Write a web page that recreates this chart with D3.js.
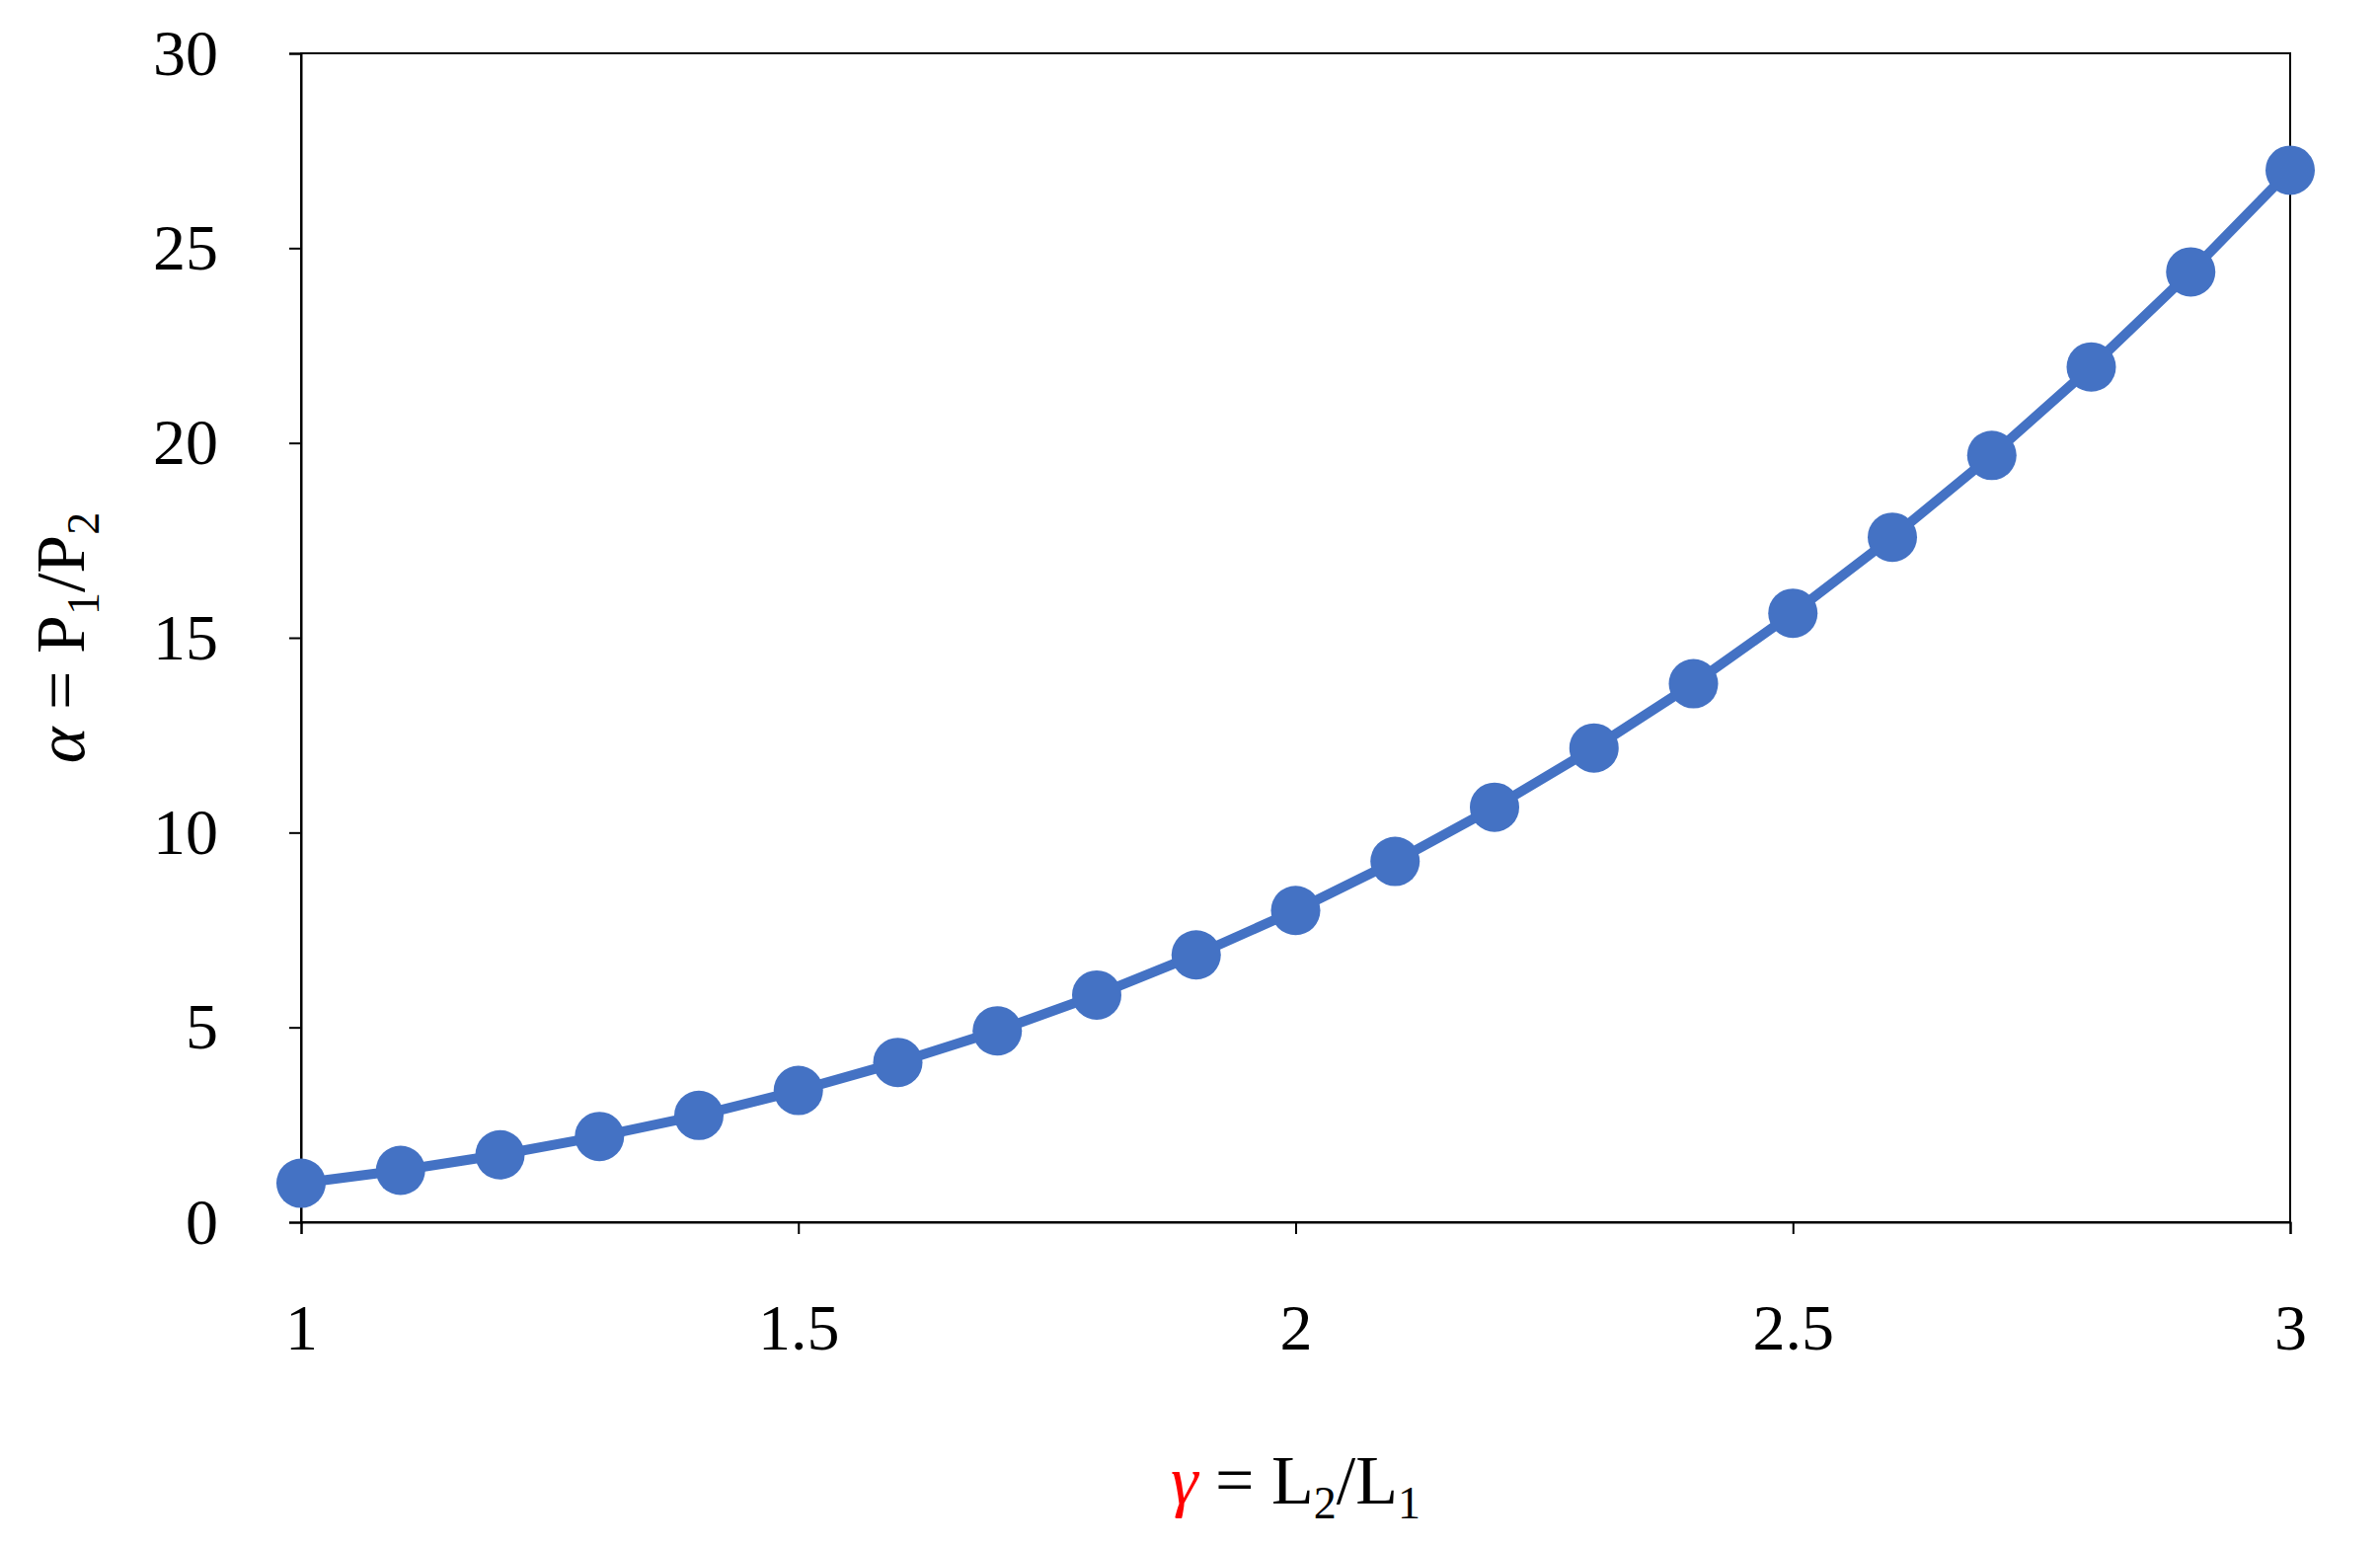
<!DOCTYPE html>
<html><head><meta charset="utf-8">
<script src="https://cdn.jsdelivr.net/npm/d3@7"></script>
<style>body{margin:0;background:#fff}</style></head>
<body><svg id="c" width="2411" height="1565"></svg>
<script>
const gammaValues = [1,1.1,1.2,1.3,1.4,1.5,1.6,1.7,1.8,1.9,2,2.1,2.2,2.3,2.4,2.5,2.6,2.7,2.8,2.9,3];
const alphaValues = [1,1.33,1.73,2.2,2.74,3.38,4.1,4.91,5.83,6.86,8,9.26,10.65,12.17,13.82,15.63,17.58,19.68,21.95,24.39,27];
const xTicks = [1,1.5,2,2.5,3];
const yTicks = [0,5,10,15,20,25,30];
const data = gammaValues.map((g,i)=>({g,a:alphaValues[i]}));
const svg = d3.select("#c");
const L=305,R=2320,T=54,B=1238;
const x=d3.scaleLinear().domain([1,3]).range([L,R]);
const y=d3.scaleLinear().domain([0,30]).range([B,T]);
const font="'Liberation Serif', serif";
svg.append("rect").attr("x",L).attr("y",T).attr("width",R-L).attr("height",B-T).attr("fill","none").attr("stroke","#000").attr("stroke-width",2);
const xa=svg.append("g").attr("transform",`translate(0,${B})`).call(d3.axisBottom(x).tickValues(xTicks).tickFormat(d3.format("")).tickSize(12).tickPadding(70));
const ya=svg.append("g").attr("transform",`translate(${L},0)`).call(d3.axisLeft(y).tickValues(yTicks).tickSize(12).tickPadding(72));
[xa,ya].forEach(a=>{a.select(".domain").attr("stroke","#000").attr("stroke-width",2);a.selectAll("line").attr("stroke","#000").attr("stroke-width",2);a.selectAll("text").attr("font-family",font).attr("font-size",66).attr("fill","#000");});
svg.append("path").datum(data).attr("fill","none").attr("stroke","#4472C4").attr("stroke-width",10)
  .attr("d",d3.line().x(d=>x(d.g)).y(d=>y(d.a)));
svg.selectAll("circle").data(data).join("circle").attr("cx",d=>x(d.g)).attr("cy",d=>y(d.a)).attr("r",25).attr("fill","#4472C4");
const xt=svg.append("text").attr("x",(L+R)/2).attr("y",1523).attr("text-anchor","middle").attr("font-family",font).attr("font-size",70);
xt.append("tspan").text("γ").attr("fill","#ff0000").attr("font-style","italic");
xt.append("tspan").text(" = L");
xt.append("tspan").text("2").attr("font-size",46).attr("dy",15);
xt.append("tspan").text("/L").attr("dy",-15);
xt.append("tspan").text("1").attr("font-size",46).attr("dy",15);
const yt=svg.append("text").attr("transform",`translate(85,${(T+B)/2}) rotate(-90)`).attr("text-anchor","middle").attr("font-family",font).attr("font-size",70);
yt.append("tspan").text("α").attr("font-style","italic");
yt.append("tspan").text(" = P");
yt.append("tspan").text("1").attr("font-size",46).attr("dy",15);
yt.append("tspan").text("/P").attr("dy",-15);
yt.append("tspan").text("2").attr("font-size",46).attr("dy",15);
</script></body></html>
